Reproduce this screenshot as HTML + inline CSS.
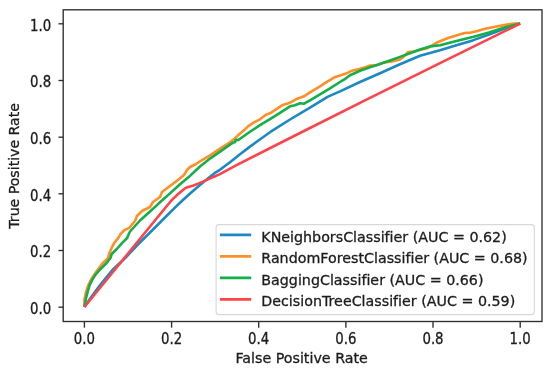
<!DOCTYPE html>
<html><head><meta charset="utf-8"><title>ROC curves</title>
<style>html,body{margin:0;padding:0;background:#fff}svg{display:block}text{font-family:"DejaVu Sans","Liberation Sans",sans-serif;fill:#1c1c1c;stroke:#1c1c1c;stroke-width:0.3px;font-variant-ligatures:none;font-kerning:normal}</style></head><body>
<svg width="550" height="374" viewBox="0 0 550 374">
<defs><filter id="soft" x="0" y="0" width="550" height="374" filterUnits="userSpaceOnUse"><feGaussianBlur stdDeviation="0.5"/></filter></defs>
<rect width="550" height="374" fill="#fff"/>
<g filter="url(#soft)">
<polyline points="84.4,307.0 92.0,296.0 100.1,285.0 112.4,270.0 125.2,258.0 137.4,245.0 146.0,236.5 160.5,222.0 174.9,207.7 182.4,200.5 187.3,196.0 192.7,191.2 198.2,186.4 203.6,182.0 209.1,177.6 214.5,173.2 219.9,169.8 230.0,162.2 240.0,154.2 250.0,146.6 256.0,142.3 270.0,132.2 290.0,119.5 310.0,107.6 328.0,96.6 340.0,91.4 360.0,82.0 380.0,73.2 400.0,64.3 420.0,55.8 440.0,50.3 456.4,45.3 472.7,40.4 489.0,34.6 505.5,28.2 520.2,23.6" fill="none" stroke="#1a89c4" stroke-width="2.6" stroke-linejoin="round" stroke-linecap="butt"/>
<polyline points="84.4,307.0 84.5,299.2 85.8,292.8 88.3,285.1 91.6,278.7 95.4,272.9 97.6,270.0 102.7,263.0 107.8,258.6 109.1,254.0 111.7,247.7 114.3,242.8 118.1,238.2 120.7,233.9 124.5,230.0 128.4,228.4 130.0,227.0 135.0,221.0 137.0,216.0 142.0,211.0 150.0,207.0 153.0,202.0 160.0,197.0 162.0,192.0 170.0,186.0 178.0,180.0 184.0,175.0 187.0,170.0 190.0,167.0 196.0,164.0 202.0,160.1 210.0,155.3 220.0,148.7 230.0,142.3 235.0,138.3 238.0,135.3 244.0,130.3 248.0,126.3 254.0,122.3 260.0,119.3 266.0,114.7 270.0,113.3 276.0,109.3 282.0,105.3 290.0,102.7 296.0,99.3 304.0,96.3 310.0,92.3 320.0,86.3 326.0,82.3 334.0,77.6 340.0,75.5 346.0,73.6 352.0,70.7 360.0,68.8 366.0,66.9 370.0,65.6 376.0,65.4 384.0,62.4 392.0,61.4 400.0,59.4 403.0,57.3 408.0,52.1 414.0,51.6 420.0,50.0 428.0,48.0 436.0,43.0 440.0,41.3 448.0,38.0 456.4,35.5 464.5,33.0 471.0,32.6 477.6,31.0 484.0,29.0 494.0,27.0 505.5,24.9 513.6,23.6 520.2,23.5" fill="none" stroke="#ff8f26" stroke-width="2.6" stroke-linejoin="round" stroke-linecap="butt"/>
<polyline points="84.4,307.0 85.8,299.2 87.7,291.5 89.6,285.1 92.8,278.7 96.2,273.8 100.3,269.2 106.6,263.0 110.4,258.0 111.7,254.0 116.8,249.0 122.0,243.2 127.1,238.0 129.0,233.5 130.0,231.5 140.0,220.5 150.0,211.5 157.0,205.1 160.0,202.3 170.0,193.4 180.0,184.3 190.0,175.9 200.0,166.5 210.0,158.6 220.0,151.6 230.0,144.6 233.0,142.6 235.0,142.2 235.8,139.8 238.0,140.1 240.0,138.8 250.0,131.8 260.0,125.1 270.0,119.2 280.0,112.8 290.0,106.3 295.0,105.3 300.0,103.3 304.0,103.7 310.0,100.3 320.0,94.3 330.0,88.3 340.0,82.0 346.0,78.3 350.0,75.3 354.0,73.5 360.0,70.8 370.0,67.3 380.0,64.0 390.0,60.5 400.0,56.9 410.0,53.3 420.0,49.5 430.0,46.4 440.0,45.3 456.4,40.9 472.7,37.0 489.0,32.6 505.5,27.2 520.2,23.5" fill="none" stroke="#12ae4a" stroke-width="2.6" stroke-linejoin="round" stroke-linecap="butt"/>
<polyline points="84.4,307.0 167.4,205.2 172.0,199.8 177.0,195.1 182.3,190.5 185.5,188.0 188.4,186.9 192.7,185.8 198.2,183.6 203.6,181.4 209.1,178.9 214.5,176.5 219.9,174.1 237.0,164.9 300.0,133.0 366.0,99.8 440.0,63.2 520.2,23.6" fill="none" stroke="#fc444b" stroke-width="2.6" stroke-linejoin="round" stroke-linecap="butt"/>
<rect x="63.2" y="9.8" width="478.8" height="311.7" fill="none" stroke="#2e2e2e" stroke-width="1.35"/>
<line x1="84.4" y1="321.5" x2="84.4" y2="327.7" stroke="#2e2e2e" stroke-width="1.35"/>
<line x1="63.2" y1="307.2" x2="58.5" y2="307.2" stroke="#2e2e2e" stroke-width="1.35"/>
<text transform="translate(84.4,343.7) scale(0.93,1.07)" font-size="14.33" text-anchor="middle">0.0</text>
<text transform="translate(51.2,314.0) scale(0.93,1.07)" font-size="14.33" text-anchor="end">0.0</text>
<line x1="171.6" y1="321.5" x2="171.6" y2="327.7" stroke="#2e2e2e" stroke-width="1.35"/>
<line x1="63.2" y1="250.5" x2="58.5" y2="250.5" stroke="#2e2e2e" stroke-width="1.35"/>
<text transform="translate(171.6,343.7) scale(0.93,1.07)" font-size="14.33" text-anchor="middle">0.2</text>
<text transform="translate(51.2,257.3) scale(0.93,1.07)" font-size="14.33" text-anchor="end">0.2</text>
<line x1="258.7" y1="321.5" x2="258.7" y2="327.7" stroke="#2e2e2e" stroke-width="1.35"/>
<line x1="63.2" y1="193.8" x2="58.5" y2="193.8" stroke="#2e2e2e" stroke-width="1.35"/>
<text transform="translate(258.7,343.7) scale(0.93,1.07)" font-size="14.33" text-anchor="middle">0.4</text>
<text transform="translate(51.2,200.6) scale(0.93,1.07)" font-size="14.33" text-anchor="end">0.4</text>
<line x1="345.9" y1="321.5" x2="345.9" y2="327.7" stroke="#2e2e2e" stroke-width="1.35"/>
<line x1="63.2" y1="137.2" x2="58.5" y2="137.2" stroke="#2e2e2e" stroke-width="1.35"/>
<text transform="translate(345.9,343.7) scale(0.93,1.07)" font-size="14.33" text-anchor="middle">0.6</text>
<text transform="translate(51.2,144.0) scale(0.93,1.07)" font-size="14.33" text-anchor="end">0.6</text>
<line x1="433.0" y1="321.5" x2="433.0" y2="327.7" stroke="#2e2e2e" stroke-width="1.35"/>
<line x1="63.2" y1="80.5" x2="58.5" y2="80.5" stroke="#2e2e2e" stroke-width="1.35"/>
<text transform="translate(433.0,343.7) scale(0.93,1.07)" font-size="14.33" text-anchor="middle">0.8</text>
<text transform="translate(51.2,87.3) scale(0.93,1.07)" font-size="14.33" text-anchor="end">0.8</text>
<line x1="520.2" y1="321.5" x2="520.2" y2="327.7" stroke="#2e2e2e" stroke-width="1.35"/>
<line x1="63.2" y1="23.8" x2="58.5" y2="23.8" stroke="#2e2e2e" stroke-width="1.35"/>
<text transform="translate(520.2,343.7) scale(0.93,1.07)" font-size="14.33" text-anchor="middle">1.0</text>
<text transform="translate(51.2,30.6) scale(0.93,1.07)" font-size="14.33" text-anchor="end">1.0</text>
<text transform="translate(301.6,363.2) scale(1,1.0)" font-size="14.25" text-anchor="middle">False Positive Rate</text>
<text transform="translate(18.8,165.9) rotate(-90) scale(1,1.0)" font-size="14.1" text-anchor="middle">True Positive Rate</text>
<rect x="216.1" y="224.6" width="318.2" height="90.0" rx="2.9" ry="2.9" fill="#fff" fill-opacity="0.8" stroke="#d8d8d8" stroke-width="1.1"/>
<line x1="221.2" y1="234.9" x2="249.9" y2="234.9" stroke="#1a89c4" stroke-width="2.6" stroke-linecap="square"/>
<text transform="translate(261.3,241.7) scale(1,1.0)" font-size="14.25">KNeighborsClassifier (AUC = 0.62)</text>
<line x1="221.2" y1="256.4" x2="249.9" y2="256.4" stroke="#ff8f26" stroke-width="2.6" stroke-linecap="square"/>
<text transform="translate(261.3,263.2) scale(1,1.0)" font-size="14.25">RandomForestClassifier (AUC = 0.68)</text>
<line x1="221.2" y1="277.9" x2="249.9" y2="277.9" stroke="#12ae4a" stroke-width="2.6" stroke-linecap="square"/>
<text transform="translate(261.3,284.7) scale(1,1.0)" font-size="14.25">BaggingClassifier (AUC = 0.66)</text>
<line x1="221.2" y1="299.4" x2="249.9" y2="299.4" stroke="#fc444b" stroke-width="2.6" stroke-linecap="square"/>
<text transform="translate(261.3,306.2) scale(1,1.0)" font-size="14.25">DecisionTreeClassifier (AUC = 0.59)</text>
</g>
</svg></body></html>
